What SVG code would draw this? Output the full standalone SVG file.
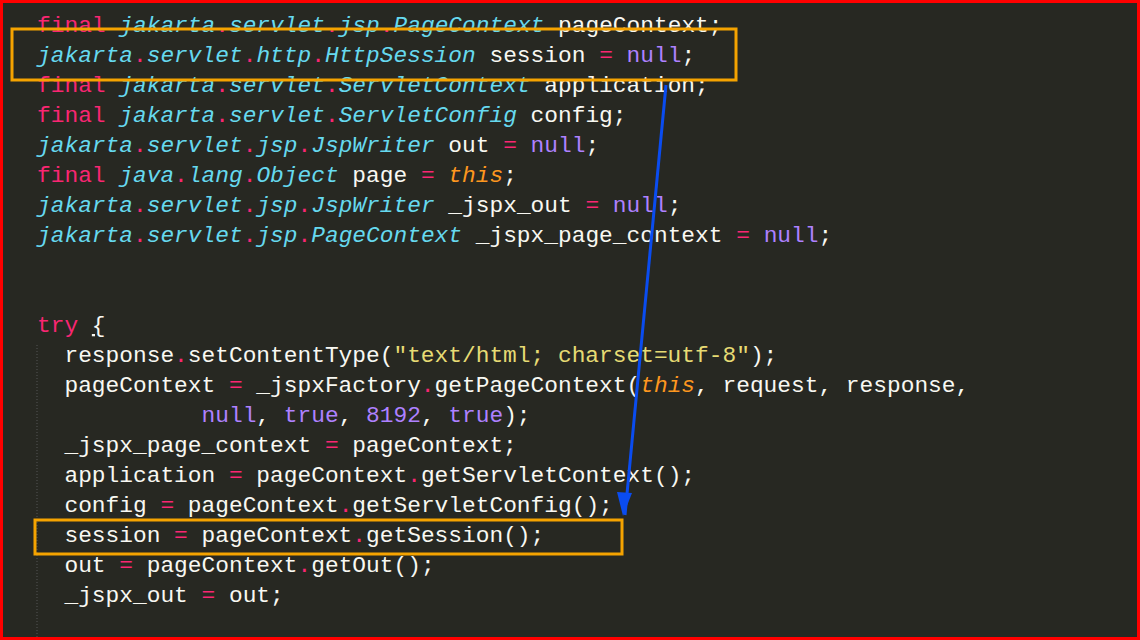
<svg xmlns="http://www.w3.org/2000/svg" width="1140" height="640" viewBox="0 0 1140 640">
<style>
text{font-family:"Liberation Mono","DejaVu Sans Mono",monospace;font-size:22.85px;fill:#f8f8f2;white-space:pre}
.k{fill:#f92672}.t{fill:#66d9ef;font-style:italic}.p{fill:#ae81ff}.o{fill:#fd971f;font-style:italic}.s{fill:#e6db74}
.box{fill:none;stroke:#f5a300;stroke-width:3}
</style>
<rect x="0" y="0" width="1140" height="640" fill="#272822"/>
<line x1="37" y1="345" x2="37" y2="640" stroke="#555" stroke-dasharray="1,2"/>
<g id="code">
<text x="37" y="32" xml:space="preserve"><tspan class="k">final</tspan> <tspan class="t">jakarta</tspan><tspan class="k">.</tspan><tspan class="t">servlet</tspan><tspan class="k">.</tspan><tspan class="t">jsp</tspan><tspan class="k">.</tspan><tspan class="t">PageContext</tspan> pageContext;</text>
<text x="37" y="62" xml:space="preserve"><tspan class="t">jakarta</tspan><tspan class="k">.</tspan><tspan class="t">servlet</tspan><tspan class="k">.</tspan><tspan class="t">http</tspan><tspan class="k">.</tspan><tspan class="t">HttpSession</tspan> session <tspan class="k">=</tspan> <tspan class="p">null</tspan>;</text>
<text x="37" y="92" xml:space="preserve"><tspan class="k">final</tspan> <tspan class="t">jakarta</tspan><tspan class="k">.</tspan><tspan class="t">servlet</tspan><tspan class="k">.</tspan><tspan class="t">ServletContext</tspan> application;</text>
<text x="37" y="122" xml:space="preserve"><tspan class="k">final</tspan> <tspan class="t">jakarta</tspan><tspan class="k">.</tspan><tspan class="t">servlet</tspan><tspan class="k">.</tspan><tspan class="t">ServletConfig</tspan> config;</text>
<text x="37" y="152" xml:space="preserve"><tspan class="t">jakarta</tspan><tspan class="k">.</tspan><tspan class="t">servlet</tspan><tspan class="k">.</tspan><tspan class="t">jsp</tspan><tspan class="k">.</tspan><tspan class="t">JspWriter</tspan> out <tspan class="k">=</tspan> <tspan class="p">null</tspan>;</text>
<text x="37" y="182" xml:space="preserve"><tspan class="k">final</tspan> <tspan class="t">java</tspan><tspan class="k">.</tspan><tspan class="t">lang</tspan><tspan class="k">.</tspan><tspan class="t">Object</tspan> page <tspan class="k">=</tspan> <tspan class="o">this</tspan>;</text>
<text x="37" y="212" xml:space="preserve"><tspan class="t">jakarta</tspan><tspan class="k">.</tspan><tspan class="t">servlet</tspan><tspan class="k">.</tspan><tspan class="t">jsp</tspan><tspan class="k">.</tspan><tspan class="t">JspWriter</tspan> _jspx_out <tspan class="k">=</tspan> <tspan class="p">null</tspan>;</text>
<text x="37" y="242" xml:space="preserve"><tspan class="t">jakarta</tspan><tspan class="k">.</tspan><tspan class="t">servlet</tspan><tspan class="k">.</tspan><tspan class="t">jsp</tspan><tspan class="k">.</tspan><tspan class="t">PageContext</tspan> _jspx_page_context <tspan class="k">=</tspan> <tspan class="p">null</tspan>;</text>
<text x="37" y="332" xml:space="preserve"><tspan class="k">try</tspan> <tspan text-decoration="underline">{</tspan></text>
<text x="37" y="362" xml:space="preserve">  response<tspan class="k">.</tspan>setContentType(<tspan class="s">"text/html; charset=utf-8"</tspan>);</text>
<text x="37" y="392" xml:space="preserve">  pageContext <tspan class="k">=</tspan> _jspxFactory<tspan class="k">.</tspan>getPageContext(<tspan class="o">this</tspan>, request, response,</text>
<text x="37" y="422" xml:space="preserve">            <tspan class="p">null</tspan>, <tspan class="p">true</tspan>, <tspan class="p">8192</tspan>, <tspan class="p">true</tspan>);</text>
<text x="37" y="452" xml:space="preserve">  _jspx_page_context <tspan class="k">=</tspan> pageContext;</text>
<text x="37" y="482" xml:space="preserve">  application <tspan class="k">=</tspan> pageContext<tspan class="k">.</tspan>getServletContext();</text>
<text x="37" y="512" xml:space="preserve">  config <tspan class="k">=</tspan> pageContext<tspan class="k">.</tspan>getServletConfig();</text>
<text x="37" y="542" xml:space="preserve">  session <tspan class="k">=</tspan> pageContext<tspan class="k">.</tspan>getSession();</text>
<text x="37" y="572" xml:space="preserve">  out <tspan class="k">=</tspan> pageContext<tspan class="k">.</tspan>getOut();</text>
<text x="37" y="602" xml:space="preserve">  _jspx_out <tspan class="k">=</tspan> out;</text>
</g>
<g id="highlight1"><rect class="box" x="12" y="29" width="724" height="51"/></g>
<g id="highlight2"><rect class="box" x="35" y="520" width="587" height="34"/></g>
<g id="connectors">
<line x1="666" y1="85" x2="625" y2="515" stroke="#0a4cf0" stroke-width="3"/>
<path d="M617,492 L632,493 L623,516 Z" fill="#0a4cf0"/>
</g>
<rect x="1.5" y="1.5" width="1137" height="637" fill="none" stroke="#ff0000" stroke-width="3"/>
</svg>
